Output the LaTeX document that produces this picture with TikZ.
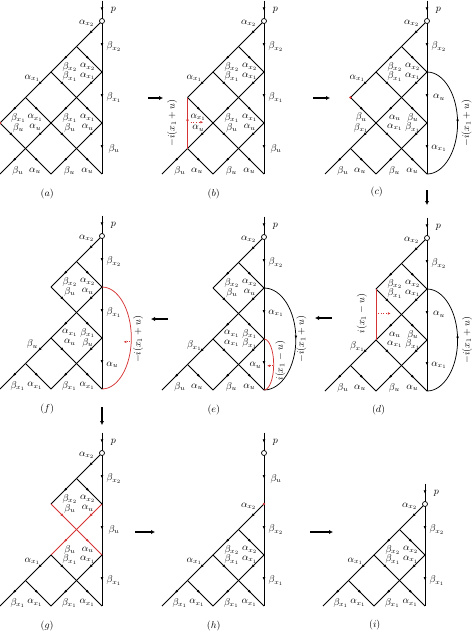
\documentclass[tikz,border=0pt]{standalone}
\usepackage{amsmath}
\usetikzlibrary{arrows.meta,decorations.markings}

\definecolor{redln}{RGB}{214,52,52}

\tikzset{
  lat/.style={line width=0.75pt, postaction={decorate},
    decoration={markings, mark=at position 0.5 with {\arrow{Latex[length=3.4pt,width=2.8pt]}}}},
  lb/.style={inner sep=0pt},
  hole/.style={circle, draw, fill=white, line width=0.7pt, minimum size=5pt, inner sep=0pt},
  reddot/.style={circle, fill=redln, minimum size=2.6pt, inner sep=0pt},
  nudge/.style={redln, dotted, line width=0.7pt, -{Latex[length=3pt,width=2.6pt]}},
  flow/.style={line width=1.3pt, -{Latex[length=4pt,width=4.4pt]}}
}

% unit diagonal steps, each with its own arrow
\newcommand{\dlseg}[4][black]{%
  \foreach \k in {1,...,#4}
    \draw[lat,#1] ({#2-\k+1},{#3+\k-1}) -- ({#2-\k},{#3+\k});}
\newcommand{\drseg}[4][black]{%
  \foreach \k in {1,...,#4}
    \draw[lat,#1] ({#2+\k-1},{#3+\k-1}) -- ({#2+\k},{#3+\k});}
% the vertical line: stub above the circle, then steps of 2
\newcommand{\spine}[2]{%
  \draw[lat, line width=0.85pt] (4,#1-0.8) -- (4,#1);
  \foreach \yy in {#2}
    \draw[lat, line width=0.85pt] (4,\yy) -- (4,\yy+2);}

\begin{document}
\begin{tikzpicture}[x=25.5pt, y=-25.5pt]
\useasboundingbox (0pt,0pt) rectangle (474pt,-640pt);

% (a)
\begin{scope}[shift={(0pt,-21pt)}]
  \spine{0}{0,2,4}
  \dlseg{4}{0}{4} \dlseg{4}{2}{4} \dlseg{4}{4}{2}
  \drseg{3}{1}{1} \drseg{2}{2}{2} \drseg{1}{3}{3} \drseg{0}{4}{2}
  \node[hole] (a-o) at (4,0) {};
  \node[reddot] (a-r) at (0,4) {};
  \foreach \x/\y/\lab [count=\i] in {4.45/-0.42/p, 3.4/0.1/\alpha_{x_2},
      4.47/1/\beta_{x_2}, 4.47/3/\beta_{x_1}, 4.47/5/\beta_u,
      2.74/1.8/\beta_{x_2}, 3.44/1.8/\alpha_{x_2}, 2.74/2.18/\beta_{x_1}, 3.44/2.18/\alpha_{x_1},
      1.27/2.25/\alpha_{x_1},
      0.72/3.8/\beta_{x_1}, 1.38/3.8/\alpha_{x_1}, 0.72/4.18/\beta_u, 1.38/4.18/\alpha_u,
      2.74/3.8/\beta_{x_1}, 3.44/3.8/\alpha_{x_1}, 2.74/4.18/\beta_u, 3.44/4.18/\alpha_u,
      0.7/5.88/\beta_u, 1.37/5.88/\alpha_u, 2.72/5.88/\beta_u, 3.42/5.88/\alpha_u}
    \node[lb] (a-\i) at (\x,\y) {$\lab$};
  \node[lb] (a-cap) at (1.85,6.78) {$(a)$};
\end{scope}

% (b)
\begin{scope}[shift={(162pt,-21pt)}]
  \spine{0}{0,2,4}
  \dlseg{4}{0}{3} \dlseg{4}{2}{4} \dlseg{4}{4}{2}
  \drseg{3}{1}{1} \drseg{2}{2}{2} \drseg{1}{3}{3} \drseg{1}{5}{1}
  \draw[lat,redln] (1,3) -- (1,5);
  \draw[nudge] (1.12,3.97) -- (1.62,3.97);
  \node[hole] (b-o) at (4,0) {};
  \foreach \x/\y/\lab [count=\i] in {4.45/-0.42/p, 3.4/0.1/\alpha_{x_2},
      4.47/1/\beta_{x_2}, 4.47/3/\beta_{x_1}, 4.47/5/\beta_u,
      2.74/1.8/\beta_{x_2}, 3.44/1.8/\alpha_{x_2}, 2.74/2.18/\beta_{x_1}, 3.44/2.18/\alpha_{x_1},
      1.27/2.25/\alpha_{x_1},
      1.42/3.78/\alpha_{x_1}, 1.42/4.2/\alpha_u,
      2.74/3.8/\beta_{x_1}, 3.44/3.8/\alpha_{x_1}, 2.74/4.18/\beta_u, 3.44/4.18/\alpha_u,
      0.7/5.88/\beta_u, 1.37/5.88/\alpha_u, 2.72/5.88/\beta_u, 3.42/5.88/\alpha_u}
    \node[lb] (b-\i) at (\x,\y) {$\lab$};
  \node[lb, rotate=90] (b-w) at (0.4,4) {$-i(x_1+u)$};
  \node[lb] (b-cap) at (2.03,6.78) {$(b)$};
\end{scope}

% (c)
\begin{scope}[shift={(325pt,-21pt)}]
  \spine{0}{0,2,4}
  \dlseg{4}{0}{3} \dlseg{4}{2}{4} \dlseg{4}{4}{2}
  \drseg{3}{1}{1} \drseg{2}{2}{2} \drseg{1}{3}{3} \drseg{1}{5}{1}
  \draw[lat] (4,2) arc[start angle=-90, end angle=90, x radius=1.2, y radius=2];
  \node[hole] (c-o) at (4,0) {};
  \node[reddot] (c-r) at (1,3) {};
  \foreach \x/\y/\lab [count=\i] in {4.45/-0.42/p, 3.4/0.1/\alpha_{x_2},
      4.47/1/\beta_{x_2}, 4.47/3/\alpha_u, 4.47/5/\alpha_{x_1},
      2.74/1.8/\beta_{x_2}, 3.44/1.8/\alpha_{x_2}, 2.74/2.18/\beta_{x_1}, 3.44/2.18/\alpha_{x_1},
      1.27/2.25/\alpha_{x_1},
      1.42/3.78/\beta_u, 1.42/4.2/\beta_{x_1},
      2.74/3.8/\alpha_u, 3.44/3.8/\beta_u, 2.74/4.18/\alpha_{x_1}, 3.44/4.18/\beta_{x_1},
      0.7/5.88/\beta_u, 1.37/5.88/\alpha_u, 2.72/5.88/\beta_u, 3.42/5.88/\alpha_u}
    \node[lb] (c-\i) at (\x,\y) {$\lab$};
  \node[lb, rotate=90] (c-w) at (5.55,4) {$-i(x_1+u)$};
  \node[lb] (c-cap) at (2.03,6.7) {$(c)$};
\end{scope}

% (f)
\begin{scope}[shift={(0pt,-236pt)}]
  \spine{0}{0,2,4}
  \dlseg{4}{0}{2} \dlseg{4}{2}{4} \dlseg{4}{4}{2}
  \drseg{3}{1}{1} \drseg{2}{2}{2} \drseg{2}{4}{2} \drseg{1}{5}{1}
  \draw[redln, line width=0.75pt] (4,2) arc[start angle=-90, end angle=90, x radius=1.15, y radius=2];
  \draw[nudge] (5.1,4.15) -- (4.84,4.15);
  \node[hole] (f-o) at (4,0) {};
  \foreach \x/\y/\lab [count=\i] in {4.45/-0.42/p, 3.4/0.1/\alpha_{x_2},
      4.47/1/\beta_{x_2}, 4.47/3/\beta_{x_1}, 4.4/5.05/\alpha_u,
      2.74/1.8/\beta_{x_2}, 3.44/1.8/\alpha_{x_2}, 2.74/2.18/\beta_u, 3.44/2.18/\alpha_u,
      2.74/3.8/\alpha_{x_1}, 3.44/3.8/\beta_{x_1}, 2.74/4.18/\alpha_u, 3.44/4.18/\beta_u,
      1.27/4.25/\beta_u,
      0.7/5.88/\beta_{x_1}, 1.37/5.88/\alpha_{x_1}, 2.72/5.88/\beta_{x_1}, 3.42/5.88/\alpha_{x_1}}
    \node[lb] (f-\i) at (\x,\y) {$\lab$};
  \node[lb, rotate=90] (f-w) at (5.42,4.05) {$-i(x_1+u)$};
  \node[lb] (f-cap) at (1.85,6.8) {$(f)$};
\end{scope}

% (e)
\begin{scope}[shift={(162pt,-237pt)}]
  \spine{0}{0,2,4}
  \dlseg{4}{0}{2} \dlseg{4}{2}{4} \dlseg{4}{4}{2}
  \drseg{3}{1}{1} \drseg{2}{2}{2} \drseg{2}{4}{2} \drseg{1}{5}{1}
  \draw[lat] (4,2) arc[start angle=-90, end angle=90, x radius=1.25, y radius=2];
  \draw[redln, line width=0.75pt] (4,4) arc[start angle=-90, end angle=90, x radius=0.38, y radius=1];
  \draw[nudge] (4.36,5.05) -- (4.12,5.05);
  \node[hole] (e-o) at (4,0) {};
  \foreach \x/\y/\lab [count=\i] in {4.45/-0.42/p, 3.4/0.1/\alpha_{x_2},
      4.47/1/\beta_{x_2}, 4.47/3/\alpha_{x_1}, 3.66/5.03/\alpha_u,
      2.74/1.8/\beta_{x_2}, 3.44/1.8/\alpha_{x_2}, 2.74/2.18/\beta_u, 3.44/2.18/\alpha_u,
      2.74/3.8/\alpha_{x_1}, 3.44/3.8/\beta_{x_1}, 2.74/4.18/\alpha_{x_1}, 3.44/4.18/\beta_{x_1},
      1.27/4.25/\beta_{x_1},
      0.7/5.88/\beta_u, 1.37/5.88/\alpha_u, 2.72/5.88/\beta_u, 3.42/5.88/\alpha_u}
    \node[lb] (e-\i) at (\x,\y) {$\lab$};
  \node[lb, rotate=90] (e-w) at (5.47,4) {$-i(x_1+u)$};
  \node[lb, rotate=90] (e-v) at (4.64,4.85) {$i(x_1-u)$};
  \node[lb] (e-cap) at (2.03,6.8) {$(e)$};
\end{scope}

% (d)
\begin{scope}[shift={(325pt,-238pt)}]
  \spine{0}{0,2,4}
  \dlseg{4}{0}{2} \dlseg{4}{2}{4} \dlseg{4}{4}{2}
  \drseg{3}{1}{1} \drseg{2}{2}{2} \drseg{2}{4}{2} \drseg{1}{5}{1}
  \draw[redln, line width=0.75pt] (2,2) -- (2,4);
  \draw[nudge] (2.08,2.96) -- (2.58,2.96);
  \draw[lat] (4,2) arc[start angle=-90, end angle=90, x radius=1.2, y radius=2];
  \node[hole] (d-o) at (4,0) {};
  \foreach \x/\y/\lab [count=\i] in {4.45/-0.42/p, 3.4/0.1/\alpha_{x_2},
      4.47/1/\beta_{x_2}, 4.47/3/\alpha_u, 4.47/5/\alpha_{x_1},
      2.74/1.8/\beta_{x_2}, 3.44/1.8/\alpha_{x_2}, 2.74/2.18/\beta_{x_1}, 3.44/2.18/\alpha_{x_1},
      2.74/3.8/\alpha_u, 3.44/3.8/\beta_u, 2.74/4.18/\alpha_{x_1}, 3.44/4.18/\beta_{x_1},
      1.27/4.25/\beta_{x_1},
      0.7/5.88/\beta_u, 1.37/5.88/\alpha_u, 2.72/5.88/\beta_u, 3.42/5.88/\alpha_u}
    \node[lb] (d-\i) at (\x,\y) {$\lab$};
  \node[lb, rotate=90] (d-w) at (5.57,4) {$-i(x_1+u)$};
  \node[lb, rotate=90] (d-v) at (1.45,2.96) {$i(x_1-u)$};
  \node[lb] (d-cap) at (2.1,6.73) {$(d)$};
\end{scope}

% (g)
\begin{scope}[shift={(0pt,-453pt)}]
  \spine{0}{0,2,4}
  \dlseg{4}{0}{2} \dlseg[redln]{4}{2}{2} \dlseg{2}{4}{2} \dlseg{4}{4}{2}
  \drseg{3}{1}{1} \drseg[redln]{2}{2}{2} \drseg{2}{4}{2} \drseg{1}{5}{1}
  \node[hole] (g-o) at (4,0) {};
  \foreach \x/\y/\lab [count=\i] in {4.45/-0.42/p, 3.4/0.1/\alpha_{x_2},
      4.47/1/\beta_{x_2}, 4.47/3/\beta_u, 4.47/5/\beta_{x_1},
      2.74/1.8/\beta_{x_2}, 3.44/1.8/\alpha_{x_2}, 2.74/2.18/\beta_u, 3.44/2.18/\alpha_u,
      2.74/3.8/\beta_u, 3.44/3.8/\alpha_u, 2.74/4.18/\beta_{x_1}, 3.44/4.18/\alpha_{x_1},
      1.27/4.25/\alpha_{x_1},
      0.7/5.88/\beta_{x_1}, 1.37/5.88/\alpha_{x_1}, 2.72/5.88/\beta_{x_1}, 3.42/5.88/\alpha_{x_1}}
    \node[lb] (g-\i) at (\x,\y) {$\lab$};
  \node[lb] (g-cap) at (1.85,6.8) {$(g)$};
\end{scope}

% (h)
\begin{scope}[shift={(162pt,-453pt)}]
  \spine{0}{0,2,4}
  \dlseg{4}{2}{4} \dlseg{4}{4}{2}
  \drseg{3}{3}{1} \drseg{2}{4}{2} \drseg{1}{5}{1}
  \node[hole] (h-o) at (4,0) {};
  \node[reddot] (h-r) at (4,2) {};
  \foreach \x/\y/\lab [count=\i] in {4.45/-0.42/p, 4.47/1/\beta_u,
      3.4/2.1/\alpha_{x_2}, 4.47/3/\beta_{x_2}, 4.47/5/\beta_{x_1},
      2.74/3.8/\beta_{x_2}, 3.44/3.8/\alpha_{x_2}, 2.74/4.18/\beta_{x_1}, 3.44/4.18/\alpha_{x_1},
      1.27/4.25/\alpha_{x_1},
      0.7/5.88/\beta_{x_1}, 1.37/5.88/\alpha_{x_1}, 2.72/5.88/\beta_{x_1}, 3.42/5.88/\alpha_{x_1}}
    \node[lb] (h-\i) at (\x,\y) {$\lab$};
  \node[lb] (h-cap) at (2.03,6.8) {$(h)$};
\end{scope}

% (i)
\begin{scope}[shift={(323pt,-453pt)}]
  \spine{2}{2,4}
  \dlseg{4}{2}{4} \dlseg{4}{4}{2}
  \drseg{3}{3}{1} \drseg{2}{4}{2} \drseg{1}{5}{1}
  \node[hole] (i-o) at (4,2) {};
  \foreach \x/\y/\lab [count=\i] in {4.45/1.6/p,
      3.4/2.1/\alpha_{x_2}, 4.47/3/\beta_{x_2}, 4.47/5/\beta_{x_1},
      2.74/3.8/\beta_{x_2}, 3.44/3.8/\alpha_{x_2}, 2.74/4.18/\beta_{x_1}, 3.44/4.18/\alpha_{x_1},
      1.27/4.25/\alpha_{x_1},
      0.7/5.88/\beta_{x_1}, 1.37/5.88/\alpha_{x_1}, 2.72/5.88/\beta_{x_1}, 3.42/5.88/\alpha_{x_1}}
    \node[lb] (i-\i) at (\x,\y) {$\lab$};
  \node[lb] (i-cap) at (2.03,6.73) {$(i)$};
\end{scope}

% steps from one picture to the next
\coordinate (ab1) at (148pt,-98pt);  \coordinate (ab2) at (163pt,-98pt);
\coordinate (bc1) at (313pt,-98pt);  \coordinate (bc2) at (330pt,-98pt);
\coordinate (cd1) at (427pt,-190pt); \coordinate (cd2) at (427pt,-205pt);
\coordinate (de1) at (332pt,-318pt); \coordinate (de2) at (315pt,-318pt);
\coordinate (ef1) at (168pt,-319pt); \coordinate (ef2) at (151pt,-319pt);
\coordinate (fg1) at (102pt,-407pt); \coordinate (fg2) at (102pt,-425pt);
\coordinate (gh1) at (135pt,-532pt); \coordinate (gh2) at (155pt,-532pt);
\coordinate (hi1) at (310pt,-532pt); \coordinate (hi2) at (333pt,-532pt);
\draw[flow] (ab1) -- (ab2);
\draw[flow] (bc1) -- (bc2);
\draw[flow] (cd1) -- (cd2);
\draw[flow] (de1) -- (de2);
\draw[flow] (ef1) -- (ef2);
\draw[flow] (fg1) -- (fg2);
\draw[flow] (gh1) -- (gh2);
\draw[flow] (hi1) -- (hi2);

\end{tikzpicture}
\end{document}
